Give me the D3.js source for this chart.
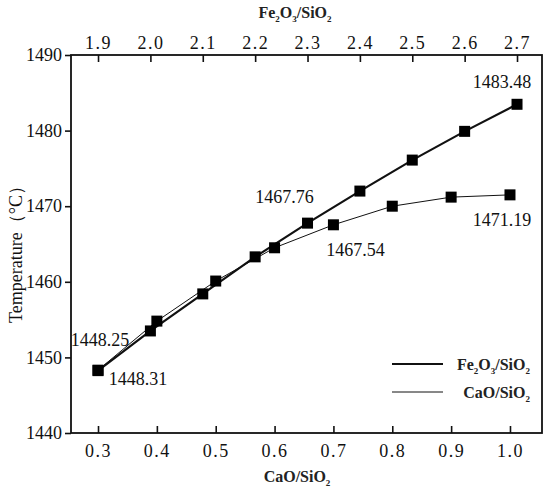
<!DOCTYPE html>
<html>
<head>
<meta charset="utf-8">
<script src="https://cdn.jsdelivr.net/npm/d3@7"></script>
<style>
  body { margin: 0; background: #fff; }
</style>
</head>
<body>
<div id="chart"></div>
<script>
// Fe2O3/SiO2 series (top axis, thick line)
const feRatio = [1.9, 2.0, 2.1, 2.2, 2.3, 2.4, 2.5, 2.6, 2.7];
const feTemp = [1448.25, 1453.5, 1458.4, 1463.3, 1467.76, 1472.0, 1476.1, 1479.9, 1483.48];

// CaO/SiO2 series (bottom axis, thin line)
const caRatio = [0.3, 0.4, 0.5, 0.6, 0.7, 0.8, 0.9, 1.0];
const caTemp = [1448.31, 1454.8, 1460.1, 1464.5, 1467.54, 1470.0, 1471.2, 1471.5];

// tick values
const bottomTicks = [0.3, 0.4, 0.5, 0.6, 0.7, 0.8, 0.9, 1.0];
const topTicks = [1.9, 2.0, 2.1, 2.2, 2.3, 2.4, 2.5, 2.6, 2.7];
const yTicks = [1440, 1450, 1460, 1470, 1480, 1490];

// annotated values: series, point index, text
const annotations = [
    { series: "fe", index: 8, text: "1483.48", dx: -15, dy: -16 },
    { series: "fe", index: 4, text: "1467.76", dx: -23, dy: -20 },
    { series: "ca", index: 4, text: "1467.54", dx: 22, dy: 31 },
    { series: "ca", index: 7, text: "1471.19", dx: -8, dy: 31 },
    { series: "fe", index: 0, text: "1448.25", dx: 2, dy: -25 },
    { series: "ca", index: 0, text: "1448.31", dx: 40, dy: 15 }
];

const serif = "'Liberation Serif'";

const W = 550, H = 493;
const margin = { top: 55, right: 8, bottom: 60, left: 71 };
const plotW = W - margin.left - margin.right;
const plotH = H - margin.top - margin.bottom;

const svg = d3.select("#chart").append("svg")
    .attr("width", W)
    .attr("height", H);

const g = svg.append("g")
    .attr("transform", "translate(" + margin.left + "," + margin.top + ")");

// Scales
const xBottom = d3.scaleLinear().domain([0.2541, 1.0544]).range([0, plotW]);
const xTop = d3.scaleLinear().domain([1.8484, 2.7477]).range([0, plotW]);
const y = d3.scaleLinear().domain([1440, 1490]).range([plotH, 0]);

// Frame
g.append("rect")
    .attr("width", plotW)
    .attr("height", plotH)
    .style("fill", "none")
    .style("stroke", "#111")
    .style("stroke-width", 1.8);

// Bottom axis (ticks inward)
const bottomAxis = g.append("g")
    .attr("transform", "translate(0," + plotH + ")")
    .call(d3.axisBottom(xBottom).tickValues(bottomTicks).tickFormat(d3.format(".1f"))
        .tickSizeInner(-7).tickSizeOuter(0).tickPadding(11));

// Top axis (ticks inward)
const topAxis = g.append("g")
    .call(d3.axisTop(xTop).tickValues(topTicks).tickFormat(d3.format(".1f"))
        .tickSizeInner(-7).tickSizeOuter(0).tickPadding(6));

// Left axis (ticks outward)
const leftAxis = g.append("g")
    .call(d3.axisLeft(y).tickValues(yTicks).tickFormat(d3.format("d"))
        .tickSize(6).tickSizeOuter(0).tickPadding(3));

[bottomAxis, topAxis, leftAxis].forEach(ax => {
    ax.attr("font-family", serif).attr("font-size", 18);
    ax.select(".domain").remove();
    ax.selectAll(".tick line").style("stroke", "#111").style("stroke-width", 1.6);
    ax.selectAll("text")
        .style("font-family", serif)
        .style("font-size", "18px")
        .style("fill", "#111");
});
bottomAxis.selectAll("text").style("letter-spacing", "1.5px");
topAxis.selectAll("text").style("letter-spacing", "1.5px");

// Lines
const feData = feRatio.map((r, i) => ({ x: xTop(r), y: y(feTemp[i]) }));
const caData = caRatio.map((r, i) => ({ x: xBottom(r), y: y(caTemp[i]) }));

const line = d3.line().x(d => d.x).y(d => d.y);

g.append("path")
    .datum(caData)
    .attr("d", line)
    .style("fill", "none")
    .style("stroke", "#111")
    .style("stroke-width", 1);

g.append("path")
    .datum(feData)
    .attr("d", line)
    .style("fill", "none")
    .style("stroke", "#111")
    .style("stroke-width", 2.2);

// Square markers
const sq = 11;
[feData, caData].forEach(data => {
    g.selectAll(null)
        .data(data)
        .enter().append("rect")
        .attr("x", d => d.x - sq / 2)
        .attr("y", d => d.y - sq / 2)
        .attr("width", sq)
        .attr("height", sq)
        .style("fill", "#000");
});

// Value labels
g.selectAll(".val")
    .data(annotations)
    .enter().append("text")
    .attr("class", "val")
    .attr("x", d => (d.series === "fe" ? feData : caData)[d.index].x + d.dx)
    .attr("y", d => (d.series === "fe" ? feData : caData)[d.index].y + d.dy)
    .attr("text-anchor", "middle")
    .style("font-family", serif)
    .style("font-size", "18px")
    .style("fill", "#111")
    .text(d => d.text);

// Axis titles
const topTitle = svg.append("text")
    .attr("x", 295)
    .attr("y", 18)
    .attr("text-anchor", "middle")
    .style("font-family", serif)
    .style("font-size", "16px")
    .style("font-weight", "bold")
    .style("fill", "#222");
topTitle.append("tspan").text("Fe");
topTitle.append("tspan").attr("dy", 4).style("font-size", "9px").text("2");
topTitle.append("tspan").attr("dy", -4).text("O");
topTitle.append("tspan").attr("dy", 4).style("font-size", "9px").text("3");
topTitle.append("tspan").attr("dy", -4).text("/SiO");
topTitle.append("tspan").attr("dy", 4).style("font-size", "9px").text("2");

const bottomTitle = svg.append("text")
    .attr("x", 297)
    .attr("y", 482)
    .attr("text-anchor", "middle")
    .style("font-family", serif)
    .style("font-size", "16px")
    .style("font-weight", "bold")
    .style("fill", "#222");
bottomTitle.append("tspan").text("CaO/SiO");
bottomTitle.append("tspan").attr("dy", 4).style("font-size", "9px").text("2");

svg.append("text")
    .attr("transform", "translate(22,250) rotate(-90)")
    .attr("text-anchor", "middle")
    .style("font-family", serif)
    .style("font-size", "18px")
    .style("fill", "#111")
    .text("Temperature（°C）");

// Legend
const legendItems = [
    { width: 2.2, parts: [["Fe", 0], ["2", 1], ["O", 0], ["3", 1], ["/SiO", 0], ["2", 1]] },
    { width: 1, parts: [["CaO/SiO", 0], ["2", 1]] }
];

const legend = svg.selectAll(".legend")
    .data(legendItems)
    .enter().append("g")
    .attr("class", "legend")
    .attr("transform", (d, i) => "translate(0," + (364 + i * 28) + ")");

legend.append("line")
    .attr("x1", 392)
    .attr("x2", 443)
    .style("stroke", "#111")
    .style("stroke-width", d => d.width);

legend.append("text")
    .attr("x", 530)
    .attr("y", 6)
    .attr("text-anchor", "end")
    .style("font-family", serif)
    .style("font-size", "16px")
    .style("font-weight", "bold")
    .style("fill", "#222")
    .each(function(d) {
        const t = d3.select(this);
        let sub = 0;
        d.parts.forEach(p => {
            const dy = p[1] === sub ? 0 : (p[1] ? 4 : -4);
            sub = p[1];
            t.append("tspan")
                .attr("dy", dy)
                .style("font-size", p[1] ? "9px" : "16px")
                .text(p[0]);
        });
    });
</script>
</body>
</html>
